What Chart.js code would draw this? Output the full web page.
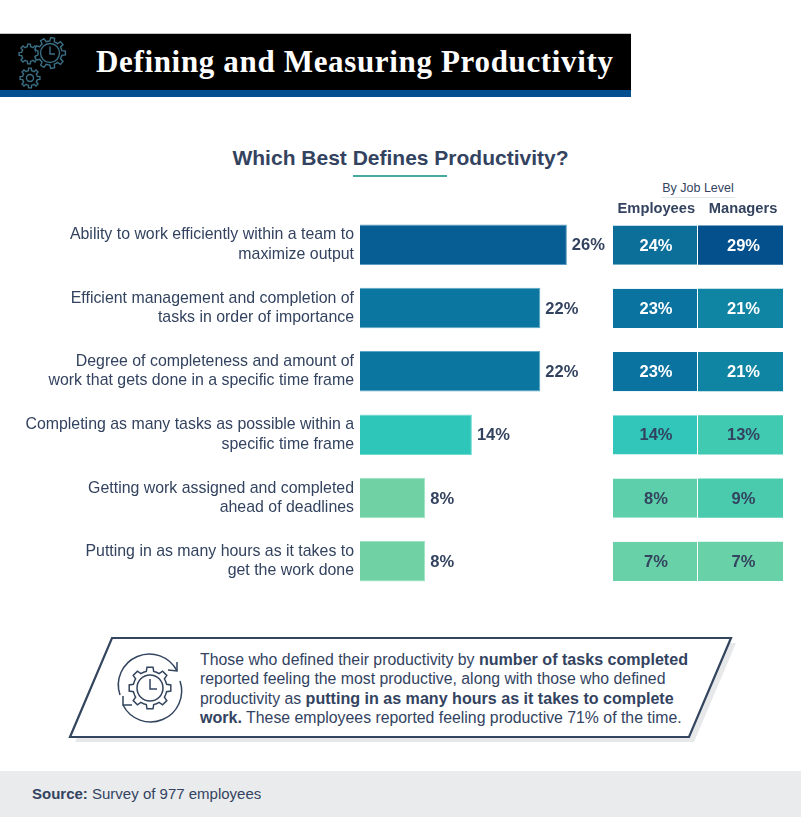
<!DOCTYPE html>
<html>
<head>
<meta charset="utf-8">
<script src="https://cdn.jsdelivr.net/npm/chart.js@4"></script>
<style>
  html, body { margin: 0; padding: 0; background: #fff; }
  body { position: relative; width: 801px; height: 817px; overflow: hidden; font-family: "Liberation Sans", Arial, sans-serif; color: #33435f; }
  .abs { position: absolute; }
  canvas { position: absolute; }
  #banner { left: 0; top: 33px; width: 631px; height: 57px; background: #000; border-top: 1px solid #c4c4c4; box-sizing: border-box; }
  #bannerLine { left: 0; top: 90px; width: 631px; height: 7px; background: #034f8f; }
  #mainTitle { left: 96px; top: 44px; font: bold 31px "Liberation Serif", serif; color: #fff; white-space: nowrap; letter-spacing: 0.66px; }
  #subTitle { left: 0; width: 801px; top: 146px; text-align: center; font-weight: bold; font-size: 21px; }
  #subRule { left: 353px; top: 175px; width: 94px; height: 2px; background: #45ab9f; }
  #jobLevel { left: 613px; width: 170px; top: 181px; text-align: center; font-size: 12.5px; }
  #jobRule { left: 661px; top: 197px; width: 74px; height: 1px; background: #dfe9ea; }
  #note { left: 200px; top: 650px; font-size: 15.83px; line-height: 19.3px; white-space: nowrap; }
  #note b { font-size: 16.08px; }
  #sourceBand { left: 0; top: 771px; width: 801px; height: 46px; background: #e9ebed; }
  #source { left: 32px; top: 785px; font-size: 15px; }
</style>
</head>
<body>
<div class="abs" id="banner"></div>
<div class="abs" id="bannerLine"></div>
<svg class="abs" style="left:0;top:34px" width="96" height="60" id="gearIcon" fill="none" stroke="#3a6f85" stroke-width="1.4">
  <defs><clipPath id="behindGear"><rect x="0" y="0" width="36" height="60"></rect></clipPath></defs>
</svg>
<div class="abs" id="mainTitle">Defining and Measuring Productivity</div>
<div class="abs" id="subTitle">Which Best Defines Productivity?</div>
<div class="abs" id="subRule"></div>
<div class="abs" id="jobLevel">By Job Level</div>
<div class="abs" id="jobRule"></div>

<canvas id="overallChart" width="620" height="380" style="left:0;top:213px"></canvas>
<canvas id="levelChart" width="170" height="398" style="left:613px;top:195px"></canvas>

<svg class="abs" style="left:0;top:625px" width="801" height="130" id="noteShape" fill="none">
  <polygon points="117,18 736,18 694,117 75,117" fill="#e6e8ea"></polygon>
  <polygon points="112,13 731,13 689,112 70,112" fill="#fff" stroke="#33455f" stroke-width="2.2"></polygon>
  <g id="noteIcon" stroke="#33455f" stroke-width="1.5"></g>
</svg>
<div class="abs" id="note">Those who defined their productivity by <b>number of tasks completed</b><br>reported feeling the most productive, along with those who defined<br>productivity as <b>putting in as many hours as it takes to complete</b><br><b>work.</b> These employees reported feeling productive 71% of the time.</div>

<div class="abs" id="sourceBand"></div>
<div class="abs" id="source"><b>Source:</b> Survey of 977 employees</div>

<script>
const categories = [
  ["Ability to work efficiently within a team to", "maximize output"],
  ["Efficient management and completion of", "tasks in order of importance"],
  ["Degree of completeness and amount of", "work that gets done in a specific time frame"],
  ["Completing as many tasks as possible within a", "specific time frame"],
  ["Getting work assigned and completed", "ahead of deadlines"],
  ["Putting in as many hours as it takes to", "get the work done"]
];
// bar lengths, printed labels are these rounded
const overallValues = [25.7, 22.4, 22.4, 13.9, 8.1, 8.1];
const employeeValues = [24, 23, 23, 14, 8, 7];
const managerValues = [29, 21, 21, 13, 9, 7];
const levelLabels = ["Employees", "Managers"];

const overallColors = ["#065e94", "#0b77a0", "#0b77a0", "#2dc6b8", "#70d2a4", "#70d2a4"];
const overallBorders = ["#5a9cc0", "#5aa6c4", "#5aa6c4", "#6fdcd0", "#9de2c4", "#9de2c4"];
const employeeColors = ["#0b6f9a", "#0b73a0", "#0b73a0", "#31c6b9", "#5dd0ab", "#69d1a7"];
const managerColors = ["#03508c", "#0f85a3", "#0f85a3", "#40cab2", "#4bcbae", "#69d1a7"];
const cellLabelColors = ["#fff", "#fff", "#fff", "#33435f", "#33435f", "#33435f"];

const darkText = "#33435f";
const sansFont = '"Liberation Sans", Arial, sans-serif';

// prints the value next to each bar of the overall chart
const overallLabels = {
  id: "overallLabels",
  afterDatasetsDraw(chart) {
    const ctx = chart.ctx;
    ctx.save();
    ctx.font = "bold 16.5px " + sansFont;
    ctx.fillStyle = darkText;
    ctx.textBaseline = "middle";
    chart.getDatasetMeta(0).data.forEach((bar, i) => {
      ctx.fillText(Math.round(overallValues[i]) + "%", bar.x + 5, bar.y + 1);
    });
    ctx.restore();
  }
};

// prints the percentages in the job level cells
const cellLabels = {
  id: "cellLabels",
  afterLayout(chart) {
    // axis labels get clipped at the scale bottom, leave room for descenders
    chart.scales.x.bottom += 6;
  },
  afterDatasetsDraw(chart) {
    const ctx = chart.ctx;
    const columns = [employeeValues, managerValues];
    const nudge = [0.5, 3];
    ctx.save();
    ctx.font = "bold 16.5px " + sansFont;
    ctx.textAlign = "center";
    ctx.textBaseline = "middle";
    columns.forEach((values, c) => {
      chart.getDatasetMeta(c).data.forEach((bar, i) => {
        ctx.fillStyle = cellLabelColors[i];
        ctx.fillText(values[i] + "%", (bar.base + bar.x) / 2 + nudge[c], bar.y + 1);
      });
    });
    ctx.restore();
  }
};

new Chart(document.getElementById("overallChart").getContext("2d"), {
  type: "bar",
  data: {
    labels: categories,
    datasets: [{
      data: overallValues,
      backgroundColor: overallColors,
      borderColor: overallBorders,
      borderWidth: 1,
      barPercentage: 0.64,
      categoryPercentage: 1
    }]
  },
  options: {
    indexAxis: "y",
    responsive: false,
    animation: false,
    layout: { padding: 0 },
    plugins: { legend: { display: false }, tooltip: { enabled: false } },
    scales: {
      x: { display: false, min: 0, max: 32.3 },
      y: {
        grid: { display: false, drawTicks: false, tickLength: 0 },
        border: { display: false },
        afterFit(scale) {
          // two line labels otherwise push the plot area in
          scale.width = 360;
          scale.paddingTop = 0;
          scale.paddingBottom = 0;
        },
        ticks: {
          padding: 6,
          crossAlign: "near",
          autoSkip: false,
          color: darkText,
          font: { family: sansFont, size: 15.9, lineHeight: 1.23 }
        }
      }
    }
  },
  plugins: [overallLabels]
});

// both columns are the same width, the percentages only set the colour
const cellWidth = categories.map(() => 1);

new Chart(document.getElementById("levelChart").getContext("2d"), {
  type: "bar",
  data: {
    labels: categories.map((c) => c.join(" ")),
    datasets: [
      { data: cellWidth, backgroundColor: employeeColors, borderColor: "#fff", borderWidth: { right: 1 }, barPercentage: 0.62, categoryPercentage: 1, stack: "level" },
      { data: cellWidth, backgroundColor: managerColors, borderColor: "#fff", borderWidth: { left: 1 }, barPercentage: 0.62, categoryPercentage: 1, stack: "level" }
    ]
  },
  options: {
    indexAxis: "y",
    responsive: false,
    animation: false,
    layout: { padding: 0 },
    plugins: { legend: { display: false }, tooltip: { enabled: false } },
    scales: {
      x: {
        position: "top",
        stacked: true,
        min: 0,
        max: 2,
        grid: { display: false, drawTicks: false, tickLength: 0 },
        border: { display: false },
        afterBuildTicks(scale) { scale.ticks = [{ value: 0.51 }, { value: 1.53 }]; },
        afterFit(scale) { scale.height = 18.4; },
        ticks: {
          padding: 1.5,
          maxRotation: 0,
          autoSkip: false,
          color: darkText,
          font: { family: sansFont, size: 14.7, weight: "bold" },
          callback: (value, i) => levelLabels[i]
        }
      },
      y: { display: false, stacked: true }
    }
  },
  plugins: [cellLabels]
});

// gear outline used by the two icons
function gearPath(cx, cy, outer, inner, teeth) {
  let d = "";
  const step = (Math.PI * 2) / teeth;
  for (let i = 0; i < teeth; i++) {
    const a = i * step;
    const pts = [[inner, a - step * 0.5], [inner, a - step * 0.28], [outer, a - step * 0.18], [outer, a + step * 0.18], [inner, a + step * 0.28]];
    pts.forEach((p) => {
      d += (d ? "L" : "M") + (cx + p[0] * Math.cos(p[1])).toFixed(1) + " " + (cy + p[0] * Math.sin(p[1])).toFixed(1);
    });
  }
  return d + "Z";
}

const svgNS = "http://www.w3.org/2000/svg";
function addShape(parent, tag, attrs) {
  const el = document.createElementNS(svgNS, tag);
  Object.keys(attrs).forEach((k) => el.setAttribute(k, attrs[k]));
  parent.appendChild(el);
}

const gearIcon = document.getElementById("gearIcon");
addShape(gearIcon, "path", { d: gearPath(50, 19, 15.5, 12, 9) });
addShape(gearIcon, "circle", { cx: 50, cy: 19, r: 9.5 });
addShape(gearIcon, "path", { d: "M50 12.5V20H55" });
addShape(gearIcon, "path", { d: gearPath(30, 44, 10, 7.5, 8) });
addShape(gearIcon, "circle", { cx: 30, cy: 44, r: 3.5 });
addShape(gearIcon, "path", { d: gearPath(29, 20, 10, 7.5, 8), "clip-path": "url(#behindGear)" });

const noteIcon = document.getElementById("noteIcon");
addShape(noteIcon, "path", { d: gearPath(150, 63, 21, 17, 8) });
addShape(noteIcon, "circle", { cx: 150, cy: 63, r: 13 });
addShape(noteIcon, "path", { d: "M150 54V64H157" });
addShape(noteIcon, "path", { d: "M177 46 A31 31 0 0 0 120 70" });
addShape(noteIcon, "path", { d: "M123 80 A31 31 0 0 0 180 56" });
addShape(noteIcon, "path", { d: "M168 45 L177 46 L177 37 M123 71 L123 80 L132 80" });
</script>
</body>
</html>
